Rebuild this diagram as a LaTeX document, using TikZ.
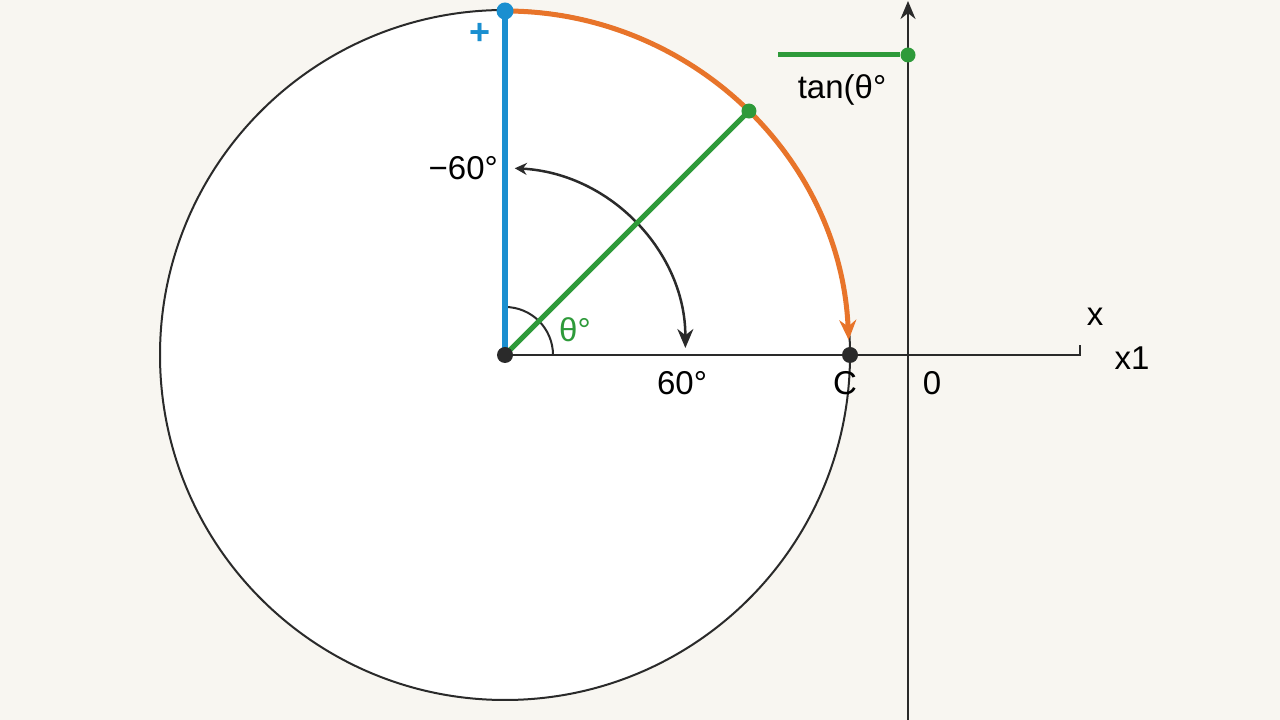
\documentclass[tikz,border=0pt]{standalone}
\usepackage{fontspec}
\setmainfont{Liberation Sans}
\usetikzlibrary{positioning}
\usetikzlibrary{arrows.meta}
\usetikzlibrary{calc}
\definecolor{bgcol}{HTML}{F8F6F1}
\definecolor{ink}{HTML}{2A2A2A}
\definecolor{skyblue}{HTML}{1A8FD0}
\definecolor{rust}{HTML}{E8742A}
\definecolor{leaf}{HTML}{2E9A3A}
\tikzset{lbl/.style={inner sep=1pt,font=\fontsize{33}{40}\selectfont}}
\tikzset{dot/.style={circle,fill=ink,inner sep=0pt,minimum size=16pt}}
\tikzset{tip/.style={-{Stealth[length=18pt,width=15pt]}}}

\begin{document}
\begin{tikzpicture}[x=1pt,y=1pt]
        \fill[bgcol] (0,0) rectangle (1280,720);
        \useasboundingbox (0,0) rectangle (1280,720);
        \coordinate (O) at (505,365);
        \coordinate (T) at (505,709);
        \coordinate (P) at ($(O)+(45:345)$);
        \coordinate (E) at (1080,365);
        \coordinate (Ybot) at (908,0);
        \coordinate (Ytop) at (908,719);
        \coordinate (G) at (778,665);
        % circle and axes
        \draw[ink,line width=2pt,fill=white] (O) circle (345);
        \draw[ink,line width=2.5pt] (O) -- (E) -- ++(0,10);
        \draw[ink,line width=2.5pt,tip] (Ybot) -- (Ytop);
        % angle marks
        \draw[ink,line width=2pt] ($(O)+(90:48)$) arc (90:0:48);
        \draw[ink,line width=2.5pt,{Stealth[length=12pt,width=12pt]}-{Stealth[length=19pt,width=16pt]}] ($(O)+(87:187)$) arc (87:0:180);
        % coloured parts
        \draw[rust,line width=5pt,-{Stealth[length=20pt,width=17pt]}] (T) arc (90:2.5:344);
        \draw[skyblue,line width=6pt] (O) -- (T);
        \draw[leaf,line width=5pt] (O) -- (P);
        \node[dot,fill=leaf,minimum size=15pt] (Pd) at (P) {};
        \node[dot,fill=leaf,minimum size=15pt] (Gd) at (908,665) {};
        \draw[leaf,line width=5pt] (G) -- (Gd);
        \node[dot,fill=skyblue,minimum size=17pt] (Td) at (T) {};
        \node[dot] (Od) at (O) {};
        \node[dot] (Cd) at (850,365) {};
        % labels
        \node[lbl,skyblue,font=\fontsize{36}{40}\selectfont\bfseries] (plus) at (480,686) {+};
        \node[lbl,anchor=east] (m60) at (499,552) {−60°};
        \node[lbl,leaf] (th) at (575,390) {θ°};
        \node[lbl] (s60) at (682,337) {60°};
        \node[lbl] (C) at (845,337) {C};
        \node[lbl] (zero) at (932,337) {0};
        \node[lbl] (x) at (1095,403) {x};
        \node[lbl] (x1) at (1132,362) {x1};
        \node[lbl] (tan) at (842,630) {tan(θ°};
    \end{tikzpicture}
\end{document}
